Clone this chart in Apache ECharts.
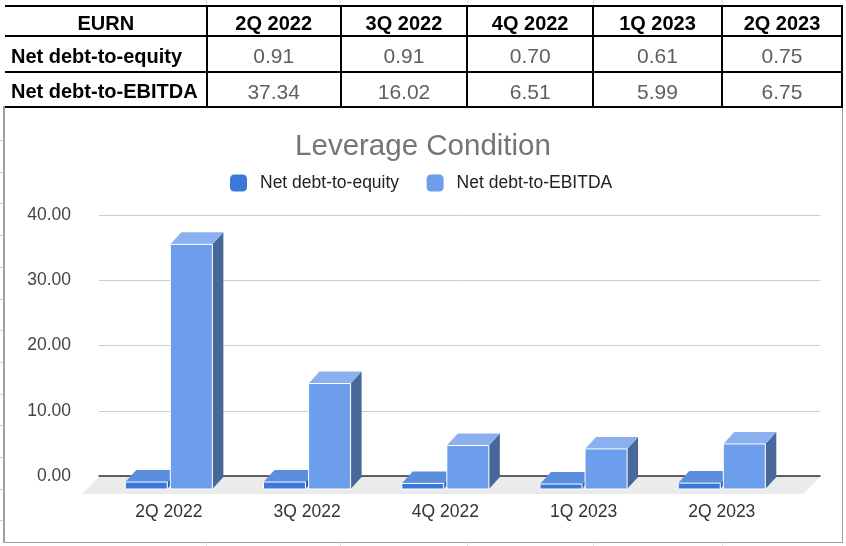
<!DOCTYPE html>
<html lang="en">
<head>
<meta charset="UTF-8">
<title>Leverage Condition</title>
<style>
    body{margin:0;width:846px;height:546px;overflow:hidden;background:#fff;position:relative;font-family:'Liberation Sans',Arial,sans-serif}
    #demo{position:absolute;left:0;top:0;width:846px;height:546px}
    .ln{position:absolute}
    .cell{position:absolute;display:flex;align-items:center;white-space:nowrap;box-sizing:border-box;padding-top:5px}
</style>
</head>
<body>
<div id="demo"></div>
<div id="sheet"></div>
<script src="https://cdn.jsdelivr.net/npm/echarts/dist/echarts.min.js"></script>
<script type="text/javascript">
    var categories = ['2Q 2022', '3Q 2022', '4Q 2022', '1Q 2023', '2Q 2023'];
    var debtToEquity = [0.91, 0.91, 0.70, 0.61, 0.75];
    var debtToEbitda = [37.34, 16.02, 6.51, 5.99, 6.75];
    var seriesNames = ['Net debt-to-equity', 'Net debt-to-EBITDA'];
    var firstHeader = 'EURN';

    var FONT = "'Liberation Sans', Arial, sans-serif";

    // ---- spreadsheet table on top ----
    var sheet = document.getElementById('sheet');
    function addLine(l, t, w, h, c) {
        var d = document.createElement('div');
        d.className = 'ln';
        d.style.cssText = 'left:' + l + 'px;top:' + t + 'px;width:' + w + 'px;height:' + h + 'px;background:' + c;
        sheet.appendChild(d);
    }
    var colX = [5, 206.7, 340.7, 467.3, 593, 722, 842];
    var rowY = [5.7, 36, 71.7, 106.7];

    // faint sheet gridlines peeking around the chart
    for (var k = 1; k < colX.length - 1; k++) {
        addLine(colX[k] - 0.5, 0, 1, 5, '#e0e0e0');
        addLine(colX[k] - 0.5, 543, 1, 3, '#e0e0e0');
    }
    for (var gy = 140; gy < 546; gy += 31.7) addLine(0, gy, 3, 1, '#d0d0d0');

    // chart box
    addLine(3, 106, 1.5, 437, '#a0a0a0');
    addLine(841.5, 106, 1.5, 437, '#a0a0a0');
    addLine(3, 541.5, 840, 1.5, '#a0a0a0');

    var rows = [
        [firstHeader].concat(categories),
        [seriesNames[0]].concat(debtToEquity.map(function (v) { return v.toFixed(2); })),
        [seriesNames[1]].concat(debtToEbitda.map(function (v) { return v.toFixed(2); }))
    ];
    for (var r = 0; r < rows.length; r++) {
        for (var c = 0; c < rows[r].length; c++) {
            var d = document.createElement('div');
            d.className = 'cell';
            d.textContent = rows[r][c];
            var css = 'left:' + (colX[c] + 1) + 'px;top:' + (rowY[r] + 1) + 'px;width:' + (colX[c + 1] - colX[c] - 2) +
                'px;height:' + (rowY[r + 1] - rowY[r] - 2) + 'px;';
            if (r === 0) css += 'justify-content:center;font-weight:bold;font-size:20px;color:#000;';
            else if (c === 0) css += 'justify-content:flex-start;padding-left:5px;font-weight:bold;font-size:20px;color:#000;';
            else css += 'justify-content:center;font-size:21px;color:#5f5f5f;';
            d.style.cssText = css;
            sheet.appendChild(d);
        }
    }
    for (var i = 0; i < rowY.length; i++) addLine(colX[0], rowY[i] - 1, colX[6] - colX[0] + 1, 2, '#000');
    for (var j = 1; j < colX.length; j++) addLine(colX[j] - 1, rowY[0] - 1, 2, rowY[3] - rowY[0] + 2, '#000');

    // ---- chart ----
    var DX = 11, DY = 12;          // bar depth
    var FDX = 17, FDY = 18;        // floor depth

    function floorItem(params, api) {
        var a = api.coord([0, 0]), b = api.coord([1, 0]);
        return {
            type: 'polygon',
            shape: {points: [[a[0], a[1] + 1], [b[0], b[1] + 1], [b[0] - FDX, b[1] + FDY], [a[0] - FDX, a[1] + FDY]]},
            style: {fill: '#ebebeb'}
        };
    }

    function bar3d(side, front, top, dark) {
        return function (params, api) {
            var idx = api.value(0), v = api.value(1);
            var p = api.coord([idx, v]), base = api.coord([idx, 0]);
            var band = api.size([1, 0])[0];
            var w = band * 0.304, gap = band * 0.011;
            var x0 = side < 0 ? p[0] - gap - w : p[0] + gap;
            var x1 = x0 + w;
            var yT = p[1] + 12, yB = base[1] + 13;
            return {
                type: 'group',
                children: [
                    {type: 'polygon', shape: {points: [[x1, yT], [x1 + DX, yT - DY], [x1 + DX, yB - DY], [x1, yB]]}, style: {fill: dark}},
                    {type: 'polygon', shape: {points: [[x0, yT], [x0 + DX, yT - DY], [x1 + DX, yT - DY], [x1, yT]]}, style: {fill: top}},
                    {type: 'rect', shape: {x: x0, y: yT, width: w, height: yB - yT}, style: {fill: front, stroke: '#fff', lineWidth: 1}}
                ]
            };
        };
    }

    var myChart = echarts.init(document.getElementById('demo'));
    var option = {
        animation: false,
        title: {
            text: 'Leverage Condition',
            left: 'center',
            top: 127,
            textStyle: {fontFamily: FONT, fontSize: 29.5, fontWeight: 'normal', color: '#757575'}
        },
        legend: {
            data: seriesNames,
            left: 230,
            top: 174,
            padding: 0,
            icon: 'roundRect',
            itemWidth: 17,
            itemHeight: 17,
            itemGap: 27.5,
            textStyle: {fontFamily: FONT, fontSize: 17.5, color: '#222', padding: [0, 0, 0, 8]}
        },
        grid: [
            {left: 99, right: 26, top: 215, bottom: 70},
            {left: 99.7, right: 55.1, top: 215, bottom: 70}
        ],
        xAxis: [
            {
                type: 'value', gridIndex: 0, min: 0, max: 1,
                axisLine: {show: true, lineStyle: {color: '#333', width: 1.5}},
                axisTick: {show: false}, axisLabel: {show: false}, splitLine: {show: false}
            },
            {
                type: 'category', gridIndex: 1, data: categories,
                axisLine: {show: false}, axisTick: {show: false},
                axisLabel: {margin: 27, fontFamily: FONT, fontSize: 17.5, color: '#333'}
            }
        ],
        yAxis: [
            {
                type: 'value', gridIndex: 0, min: 0, max: 40, interval: 10,
                axisLine: {show: false}, axisTick: {show: false},
                axisLabel: {
                    margin: 28, fontFamily: FONT, fontSize: 17.5, color: '#444',
                    formatter: function (v) { return v.toFixed(2); }
                },
                splitLine: {lineStyle: {color: '#cccccc'}}
            },
            {type: 'value', gridIndex: 1, min: 0, max: 40, interval: 10, show: false}
        ],
        series: [
            {
                type: 'custom', xAxisIndex: 0, yAxisIndex: 0, silent: true,
                renderItem: floorItem, data: [[0, 0]], z: 1
            },
            {
                name: seriesNames[0], type: 'custom', xAxisIndex: 1, yAxisIndex: 1,
                itemStyle: {color: '#3c78d8'},
                renderItem: bar3d(-1, '#3c78d8', '#5c8ee0', '#2f5ea8'),
                data: debtToEquity.map(function (v, n) { return [n, v]; }),
                encode: {x: 0, y: 1}, z: 3
            },
            {
                name: seriesNames[1], type: 'custom', xAxisIndex: 1, yAxisIndex: 1,
                itemStyle: {color: '#6d9eeb'},
                renderItem: bar3d(1, '#6d9eeb', '#8ab0f0', '#476898'),
                data: debtToEbitda.map(function (v, n) { return [n, v]; }),
                encode: {x: 0, y: 1}, z: 4
            }
        ]
    };
    myChart.setOption(option);
</script>
</body>
</html>
